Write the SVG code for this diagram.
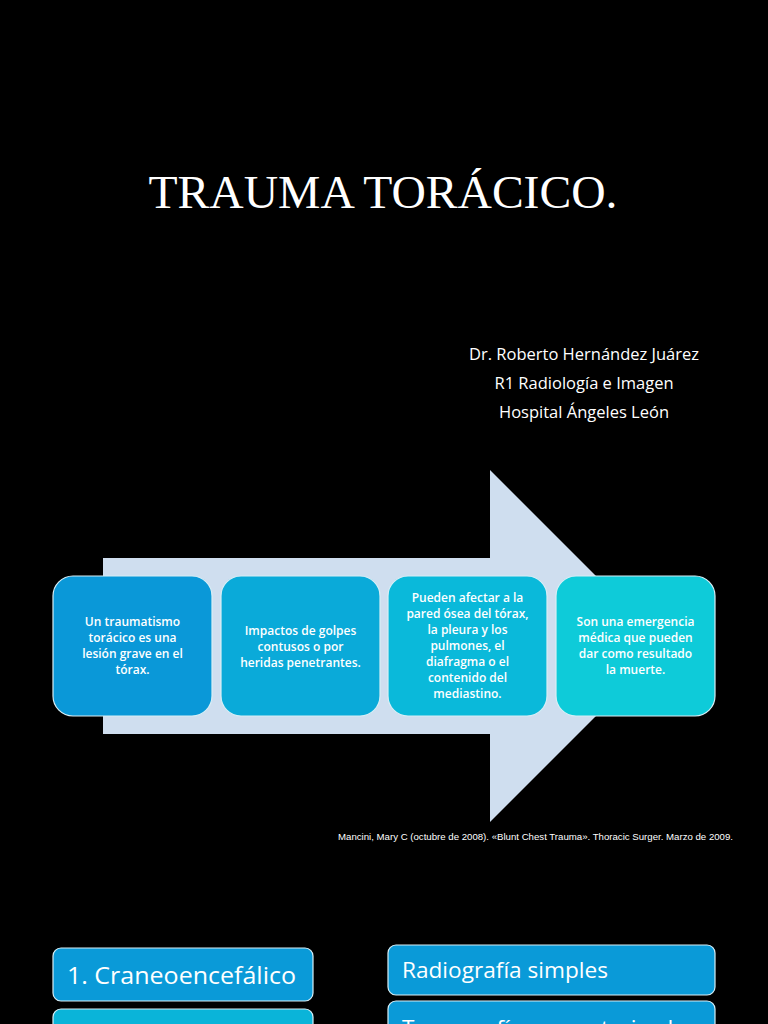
<svg xmlns="http://www.w3.org/2000/svg" width="768" height="1024" viewBox="0 0 768 1024">
<defs>
<style>
.box{stroke:#d8eef6;stroke-width:1.2}
.bt{font-family:"Open Sans","Liberation Sans",sans-serif;font-size:12px;font-weight:600;fill:#ffffff;text-anchor:middle}
.au{font-family:"Open Sans","Liberation Sans",sans-serif;font-size:16.5px;fill:#ffffff;text-anchor:middle}
.lb{font-family:"Open Sans","Liberation Sans",sans-serif;fill:#ffffff}
</style>
</defs>
<rect width="768" height="1024" fill="#000000"/>
<text x="383" y="208" font-family="Liberation Serif, serif" font-size="47" fill="#ffffff" text-anchor="middle" textLength="469" lengthAdjust="spacingAndGlyphs">TRAUMA TORÁCICO.</text>
<g id="author">
<text class="au" x="584" y="360" textLength="230" lengthAdjust="spacingAndGlyphs">Dr. Roberto Hernández Juárez</text>
<text class="au" x="584" y="389">R1 Radiología e Imagen</text>
<text class="au" x="584" y="418">Hospital Ángeles León</text>
</g>
<g id="connectors">
<polygon points="103,558 490,558 490,470 666,646 490,822 490,734 103,734" fill="#cfdeef"/>
</g>
<g id="n1">
<rect class="box" x="53" y="576" width="159" height="140" rx="20" fill="#0a98d8"/>
<text class="bt" x="132.5" y="626">Un traumatismo</text>
<text class="bt" x="132.5" y="642">torácico es una</text>
<text class="bt" x="132.5" y="658">lesión grave en el</text>
<text class="bt" x="132.5" y="674">tórax.</text>
</g>
<g id="n2">
<rect class="box" x="221" y="576" width="159" height="140" rx="20" fill="#0aaad9"/>
<text class="bt" x="300.5" y="635">Impactos de golpes</text>
<text class="bt" x="300.5" y="651">contusos o por</text>
<text class="bt" x="300.5" y="667">heridas penetrantes.</text>
</g>
<g id="n3">
<rect class="box" x="388" y="576" width="159" height="140" rx="20" fill="#0ab9da"/>
<text class="bt" x="467.5" y="602">Pueden afectar a la</text>
<text class="bt" x="467.5" y="618">pared ósea del tórax,</text>
<text class="bt" x="467.5" y="634">la pleura y los</text>
<text class="bt" x="467.5" y="650">pulmones, el</text>
<text class="bt" x="467.5" y="666">diafragma o el</text>
<text class="bt" x="467.5" y="682">contenido del</text>
<text class="bt" x="467.5" y="698">mediastino.</text>
</g>
<g id="n4">
<rect class="box" x="556" y="576" width="159" height="140" rx="20" fill="#0ecbd9"/>
<text class="bt" x="635.5" y="626">Son una emergencia</text>
<text class="bt" x="635.5" y="642">médica que pueden</text>
<text class="bt" x="635.5" y="658">dar como resultado</text>
<text class="bt" x="635.5" y="674">la muerte.</text>
</g>
<text x="338" y="840" font-family="Liberation Sans, sans-serif" font-size="8.6" fill="#ffffff" textLength="395" lengthAdjust="spacingAndGlyphs">Mancini, Mary C (octubre de 2008). «Blunt Chest Trauma». Thoracic Surger. Marzo de 2009.</text>
<g id="b1">
<rect class="box" x="53" y="948" width="260" height="53" rx="8" fill="#0a9ad8"/>
<text class="lb" x="67" y="984" font-size="24" textLength="229" lengthAdjust="spacingAndGlyphs">1. Craneoencefálico</text>
</g>
<g id="b2">
<rect class="box" x="53" y="1009" width="260" height="40" rx="8" fill="#0ab4d9"/>
</g>
<g id="b3">
<rect class="box" x="388" y="945" width="327" height="50" rx="8" fill="#0a9ad8"/>
<text class="lb" x="402" y="978" font-size="22" textLength="206" lengthAdjust="spacingAndGlyphs">Radiografía simples</text>
</g>
<g id="b4">
<rect class="box" x="388" y="1001" width="327" height="50" rx="8" fill="#0a9ad8"/>
<text class="lb" x="402" y="1036" font-size="22" textLength="285" lengthAdjust="spacingAndGlyphs">Tomografía computarizado</text>
</g>
</svg>
